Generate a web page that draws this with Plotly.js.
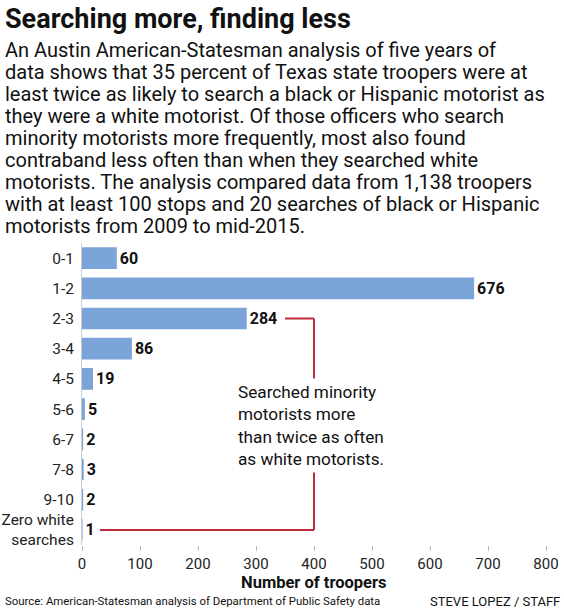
<!DOCTYPE html>
<html><head><meta charset="utf-8">
<script src="https://cdn.plot.ly/plotly-3.0.1.min.js"></script>
<style>body{margin:0;background:#fff}#c{width:564px;height:610px}</style>
</head><body><div id="c"></div>
<script>
const categories = ["0-1","1-2","2-3","3-4","4-5","5-6","6-7","7-8","9-10","Zero white<br>searches"];
const troopers = [60, 676, 284, 86, 19, 5, 2, 3, 2, 1];
const xTicks = [0,100,200,300,400,500,600,700,800];
const titleText = "Searching more, finding less";
const subtitleLines = [
  "An Austin American-Statesman analysis of five years of",
  "data shows that 35 percent of Texas state troopers were at",
  "least twice as likely to search a black or Hispanic motorist as",
  "they were a white motorist. Of those officers who search",
  "minority motorists more frequently, most also found",
  "contraband less often than when they searched white",
  "motorists. The analysis compared data from 1,138 troopers",
  "with at least 100 stops and 20 searches of black or Hispanic",
  "motorists from 2009 to mid-2015."
];
const calloutText = "Searched minority<br>motorists more<br>than twice as often<br>as white motorists.";
const xTitleText = "Number of troopers";
const sourceText = "Source: American-Statesman analysis of Department of Public Safety data";
const creditText = "STEVE LOPEZ / STAFF";

const F = "Roboto, 'Liberation Sans', sans-serif";
const red = "#bf2a3c";
const W = 564, H = 610, ML = 82, MR = 18, MT = 243, MB = 65;
const PW = W - ML - MR, PH = H - MT - MB;
const px = x => (x - ML) / PW;         // pixel -> paper x
const py = y => (H - MB - y) / PH;     // pixel -> paper y

const trace = {
  type: "bar", orientation: "h",
  y: categories, x: troopers,
  text: troopers.map(String), textposition: "outside",
  textfont: {family: F, size: 16, color: "#111", weight: 700},
  marker: {color: "#7ba4d9"},
  cliponaxis: false, hoverinfo: "none"
};

const annotations = [
  {xref: "paper", yref: "paper", x: px(3), y: py(19), xanchor: "left", yanchor: "middle",
   text: "<b>" + titleText + "</b>", showarrow: false, align: "left",
   font: {family: F, size: 27, color: "#111"}}
];
subtitleLines.forEach((t, i) => annotations.push({
  xref: "paper", yref: "paper", x: px(3), y: py(50 + i * 22), xanchor: "left", yanchor: "middle",
  text: t, showarrow: false, align: "left",
  font: {family: F, size: 20, color: "#111"}
}));
annotations.push(
  {xref: "x", yref: "paper", x: 262, y: py(425), xanchor: "left", yanchor: "middle",
   text: calloutText, showarrow: false, align: "left", bgcolor: "#fff", borderpad: 3,
   font: {family: F, size: 17.2, color: "#111"}},
  {xref: "paper", yref: "paper", x: 0.5, y: py(582), xanchor: "center", yanchor: "middle",
   text: "<b>" + xTitleText + "</b>", showarrow: false,
   font: {family: F, size: 16.5, color: "#111"}},
  {xref: "paper", yref: "paper", x: px(3), y: py(601), xanchor: "left", yanchor: "middle",
   text: sourceText, showarrow: false, align: "left",
   font: {family: F, size: 11.4, color: "#111"}},
  {xref: "paper", yref: "paper", x: px(562), y: py(601), xanchor: "right", yanchor: "middle",
   text: creditText, showarrow: false, align: "right",
   font: {family: F, size: 13, color: "#111"}}
);

const layout = {
  width: W, height: H,
  margin: {l: ML, r: MR, t: MT, b: MB},
  paper_bgcolor: "#fff", plot_bgcolor: "#fff",
  showlegend: false, bargap: 0.28,
  font: {family: F, color: "#111"},
  xaxis: {
    range: [0, 800], tickvals: xTicks, ticks: "outside", ticklen: 5, tickcolor: "#bbb",
    showgrid: false, zeroline: false, showline: false,
    tickfont: {family: F, size: 15, color: "#222"}
  },
  yaxis: {
    autorange: "reversed", showgrid: false, zeroline: false,
    showline: true, linecolor: "#c8cdd4", linewidth: 1,
    ticks: "", ticklabelstandoff: 4,
    tickfont: {family: F, size: 15.5, color: "#222"}
  },
  shapes: [
    {type: "line", xref: "x", yref: "y", x0: 350, x1: 400, y0: "2-3", y1: "2-3", line: {color: red, width: 2}},
    {type: "line", xref: "x", yref: "y", x0: 400, x1: 400, y0: "2-3", y1: categories[9], line: {color: red, width: 2}},
    {type: "line", xref: "x", yref: "y", x0: 31, x1: 400, y0: categories[9], y1: categories[9], line: {color: red, width: 2}}
  ],
  annotations: annotations
};

Plotly.newPlot("c", [trace], layout, {displayModeBar: false, staticPlot: true});
</script>
</body></html>
